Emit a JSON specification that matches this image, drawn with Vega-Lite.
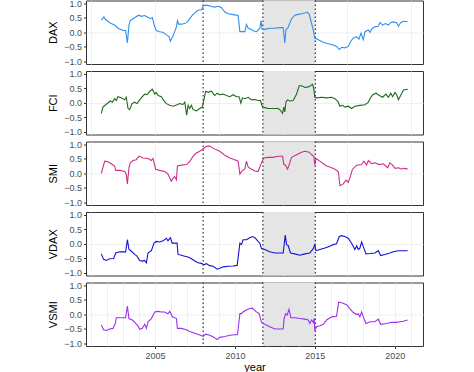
{
"$schema":"https://vega.github.io/schema/vega-lite/v6.json",
"padding":{"left":47,"top":-1.5,"right":5,"bottom":2},
"spacing":6.5,
"bounds":"flush",
"datasets":{
"sh":[{"a":2011.75,"b":2015.03}],
"ev":[{"x":2008.01},{"x":2011.75},{"x":2015.03}],
"d":[
{"s":"DAX","t":2001.64,"v":0.42},{"s":"DAX","t":2001.80,"v":0.53},{"s":"DAX","t":2001.91,"v":0.44},{"s":"DAX","t":2002.05,"v":0.38},{"s":"DAX","t":2002.26,"v":0.30},{"s":"DAX","t":2002.47,"v":0.25},{"s":"DAX","t":2002.68,"v":0.14},{"s":"DAX","t":2003.00,"v":0.06},{"s":"DAX","t":2003.16,"v":0.06},{"s":"DAX","t":2003.27,"v":-0.37},{"s":"DAX","t":2003.37,"v":0.25},{"s":"DAX","t":2003.45,"v":0.40},{"s":"DAX","t":2003.62,"v":0.47},{"s":"DAX","t":2003.79,"v":0.53},{"s":"DAX","t":2003.98,"v":0.59},{"s":"DAX","t":2004.14,"v":0.55},{"s":"DAX","t":2004.35,"v":0.58},{"s":"DAX","t":2004.52,"v":0.53},{"s":"DAX","t":2004.71,"v":0.47},{"s":"DAX","t":2004.83,"v":0.51},{"s":"DAX","t":2004.98,"v":0.19},{"s":"DAX","t":2005.08,"v":0.06},{"s":"DAX","t":2005.29,"v":0.02},{"s":"DAX","t":2005.50,"v":0.00},{"s":"DAX","t":2005.71,"v":-0.09},{"s":"DAX","t":2005.88,"v":-0.15},{"s":"DAX","t":2005.96,"v":-0.31},{"s":"DAX","t":2006.09,"v":-0.17},{"s":"DAX","t":2006.23,"v":0.02},{"s":"DAX","t":2006.34,"v":0.19},{"s":"DAX","t":2006.40,"v":0.40},{"s":"DAX","t":2006.48,"v":0.28},{"s":"DAX","t":2006.65,"v":0.28},{"s":"DAX","t":2006.86,"v":0.30},{"s":"DAX","t":2007.03,"v":0.36},{"s":"DAX","t":2007.17,"v":0.47},{"s":"DAX","t":2007.34,"v":0.59},{"s":"DAX","t":2007.49,"v":0.67},{"s":"DAX","t":2007.69,"v":0.76},{"s":"DAX","t":2007.90,"v":0.78},{"s":"DAX","t":2008.05,"v":0.93},{"s":"DAX","t":2008.32,"v":0.93},{"s":"DAX","t":2008.53,"v":0.89},{"s":"DAX","t":2008.74,"v":0.87},{"s":"DAX","t":2008.95,"v":0.90},{"s":"DAX","t":2009.16,"v":0.85},{"s":"DAX","t":2009.37,"v":0.70},{"s":"DAX","t":2009.57,"v":0.64},{"s":"DAX","t":2009.89,"v":0.61},{"s":"DAX","t":2010.20,"v":0.58},{"s":"DAX","t":2010.31,"v":0.02},{"s":"DAX","t":2010.47,"v":0.02},{"s":"DAX","t":2010.62,"v":0.02},{"s":"DAX","t":2010.72,"v":0.27},{"s":"DAX","t":2010.83,"v":0.14},{"s":"DAX","t":2010.97,"v":0.11},{"s":"DAX","t":2011.14,"v":0.05},{"s":"DAX","t":2011.35,"v":0.02},{"s":"DAX","t":2011.56,"v":0.14},{"s":"DAX","t":2011.64,"v":0.40},{"s":"DAX","t":2011.70,"v":0.10},{"s":"DAX","t":2011.87,"v":0.10},{"s":"DAX","t":2012.18,"v":0.14},{"s":"DAX","t":2012.50,"v":0.14},{"s":"DAX","t":2012.81,"v":0.16},{"s":"DAX","t":2013.02,"v":0.16},{"s":"DAX","t":2013.12,"v":-0.37},{"s":"DAX","t":2013.19,"v":0.08},{"s":"DAX","t":2013.33,"v":0.17},{"s":"DAX","t":2013.54,"v":0.47},{"s":"DAX","t":2013.75,"v":0.59},{"s":"DAX","t":2013.96,"v":0.62},{"s":"DAX","t":2014.17,"v":0.64},{"s":"DAX","t":2014.38,"v":0.67},{"s":"DAX","t":2014.52,"v":0.70},{"s":"DAX","t":2014.65,"v":0.62},{"s":"DAX","t":2014.80,"v":0.30},{"s":"DAX","t":2014.90,"v":0.08},{"s":"DAX","t":2015.00,"v":-0.20},{"s":"DAX","t":2015.21,"v":-0.26},{"s":"DAX","t":2015.53,"v":-0.35},{"s":"DAX","t":2015.84,"v":-0.40},{"s":"DAX","t":2016.15,"v":-0.44},{"s":"DAX","t":2016.36,"v":-0.49},{"s":"DAX","t":2016.53,"v":-0.60},{"s":"DAX","t":2016.68,"v":-0.52},{"s":"DAX","t":2016.88,"v":-0.54},{"s":"DAX","t":2017.09,"v":-0.49},{"s":"DAX","t":2017.24,"v":-0.32},{"s":"DAX","t":2017.41,"v":-0.20},{"s":"DAX","t":2017.62,"v":-0.15},{"s":"DAX","t":2017.76,"v":-0.24},{"s":"DAX","t":2017.89,"v":-0.03},{"s":"DAX","t":2018.03,"v":-0.26},{"s":"DAX","t":2018.14,"v":0.02},{"s":"DAX","t":2018.35,"v":0.08},{"s":"DAX","t":2018.45,"v":0.00},{"s":"DAX","t":2018.60,"v":0.14},{"s":"DAX","t":2018.76,"v":0.19},{"s":"DAX","t":2018.97,"v":0.21},{"s":"DAX","t":2019.08,"v":0.34},{"s":"DAX","t":2019.24,"v":0.25},{"s":"DAX","t":2019.43,"v":0.30},{"s":"DAX","t":2019.60,"v":0.25},{"s":"DAX","t":2019.77,"v":0.34},{"s":"DAX","t":2019.91,"v":0.36},{"s":"DAX","t":2020.12,"v":0.33},{"s":"DAX","t":2020.23,"v":0.21},{"s":"DAX","t":2020.37,"v":0.33},{"s":"DAX","t":2020.54,"v":0.38},{"s":"DAX","t":2020.81,"v":0.37},
{"s":"FCI","t":2001.64,"v":-0.37},{"s":"FCI","t":2001.74,"v":-0.15},{"s":"FCI","t":2001.91,"v":-0.07},{"s":"FCI","t":2002.05,"v":-0.01},{"s":"FCI","t":2002.20,"v":0.06},{"s":"FCI","t":2002.33,"v":0.02},{"s":"FCI","t":2002.47,"v":0.14},{"s":"FCI","t":2002.58,"v":0.08},{"s":"FCI","t":2002.68,"v":0.21},{"s":"FCI","t":2002.89,"v":0.17},{"s":"FCI","t":2003.10,"v":0.10},{"s":"FCI","t":2003.20,"v":0.19},{"s":"FCI","t":2003.31,"v":-0.20},{"s":"FCI","t":2003.41,"v":-0.24},{"s":"FCI","t":2003.56,"v":-0.03},{"s":"FCI","t":2003.73,"v":0.02},{"s":"FCI","t":2003.87,"v":-0.03},{"s":"FCI","t":2004.04,"v":0.10},{"s":"FCI","t":2004.21,"v":0.21},{"s":"FCI","t":2004.35,"v":0.30},{"s":"FCI","t":2004.50,"v":0.28},{"s":"FCI","t":2004.67,"v":0.40},{"s":"FCI","t":2004.83,"v":0.47},{"s":"FCI","t":2004.98,"v":0.30},{"s":"FCI","t":2005.08,"v":0.36},{"s":"FCI","t":2005.19,"v":0.25},{"s":"FCI","t":2005.40,"v":0.21},{"s":"FCI","t":2005.54,"v":0.08},{"s":"FCI","t":2005.71,"v":-0.03},{"s":"FCI","t":2005.92,"v":-0.09},{"s":"FCI","t":2006.13,"v":-0.12},{"s":"FCI","t":2006.34,"v":-0.08},{"s":"FCI","t":2006.55,"v":-0.03},{"s":"FCI","t":2006.75,"v":-0.06},{"s":"FCI","t":2006.86,"v":0.02},{"s":"FCI","t":2006.98,"v":-0.43},{"s":"FCI","t":2007.07,"v":-0.09},{"s":"FCI","t":2007.17,"v":-0.20},{"s":"FCI","t":2007.28,"v":-0.09},{"s":"FCI","t":2007.38,"v":-0.24},{"s":"FCI","t":2007.59,"v":-0.28},{"s":"FCI","t":2007.80,"v":-0.20},{"s":"FCI","t":2007.97,"v":-0.15},{"s":"FCI","t":2008.05,"v":0.08},{"s":"FCI","t":2008.17,"v":0.40},{"s":"FCI","t":2008.32,"v":0.36},{"s":"FCI","t":2008.53,"v":0.40},{"s":"FCI","t":2008.74,"v":0.25},{"s":"FCI","t":2008.89,"v":0.33},{"s":"FCI","t":2009.05,"v":0.28},{"s":"FCI","t":2009.26,"v":0.30},{"s":"FCI","t":2009.47,"v":0.25},{"s":"FCI","t":2009.68,"v":0.21},{"s":"FCI","t":2009.89,"v":0.28},{"s":"FCI","t":2010.10,"v":0.21},{"s":"FCI","t":2010.26,"v":0.21},{"s":"FCI","t":2010.37,"v":-0.01},{"s":"FCI","t":2010.47,"v":0.17},{"s":"FCI","t":2010.62,"v":0.14},{"s":"FCI","t":2010.83,"v":0.19},{"s":"FCI","t":2011.04,"v":0.10},{"s":"FCI","t":2011.25,"v":0.11},{"s":"FCI","t":2011.45,"v":0.08},{"s":"FCI","t":2011.60,"v":0.08},{"s":"FCI","t":2011.70,"v":-0.12},{"s":"FCI","t":2011.87,"v":-0.17},{"s":"FCI","t":2012.08,"v":-0.20},{"s":"FCI","t":2012.39,"v":-0.20},{"s":"FCI","t":2012.71,"v":-0.20},{"s":"FCI","t":2012.85,"v":-0.26},{"s":"FCI","t":2012.98,"v":-0.37},{"s":"FCI","t":2013.06,"v":-0.15},{"s":"FCI","t":2013.12,"v":-0.32},{"s":"FCI","t":2013.19,"v":0.02},{"s":"FCI","t":2013.29,"v":0.10},{"s":"FCI","t":2013.44,"v":0.06},{"s":"FCI","t":2013.65,"v":0.08},{"s":"FCI","t":2013.86,"v":0.30},{"s":"FCI","t":2014.02,"v":0.59},{"s":"FCI","t":2014.17,"v":0.59},{"s":"FCI","t":2014.38,"v":0.53},{"s":"FCI","t":2014.59,"v":0.55},{"s":"FCI","t":2014.73,"v":0.59},{"s":"FCI","t":2014.86,"v":0.64},{"s":"FCI","t":2014.94,"v":0.47},{"s":"FCI","t":2015.00,"v":0.19},{"s":"FCI","t":2015.15,"v":0.17},{"s":"FCI","t":2015.42,"v":0.19},{"s":"FCI","t":2015.74,"v":0.17},{"s":"FCI","t":2016.05,"v":0.19},{"s":"FCI","t":2016.26,"v":0.14},{"s":"FCI","t":2016.47,"v":0.02},{"s":"FCI","t":2016.57,"v":-0.12},{"s":"FCI","t":2016.74,"v":-0.09},{"s":"FCI","t":2016.88,"v":-0.15},{"s":"FCI","t":2017.09,"v":-0.12},{"s":"FCI","t":2017.30,"v":-0.20},{"s":"FCI","t":2017.51,"v":-0.12},{"s":"FCI","t":2017.82,"v":-0.09},{"s":"FCI","t":2018.14,"v":-0.07},{"s":"FCI","t":2018.35,"v":0.02},{"s":"FCI","t":2018.45,"v":0.14},{"s":"FCI","t":2018.62,"v":0.28},{"s":"FCI","t":2018.83,"v":0.33},{"s":"FCI","t":2019.04,"v":0.25},{"s":"FCI","t":2019.24,"v":0.19},{"s":"FCI","t":2019.45,"v":0.30},{"s":"FCI","t":2019.60,"v":0.19},{"s":"FCI","t":2019.75,"v":0.33},{"s":"FCI","t":2019.87,"v":0.21},{"s":"FCI","t":2020.02,"v":0.36},{"s":"FCI","t":2020.12,"v":0.28},{"s":"FCI","t":2020.23,"v":0.10},{"s":"FCI","t":2020.37,"v":0.25},{"s":"FCI","t":2020.54,"v":0.44},{"s":"FCI","t":2020.81,"v":0.47},
{"s":"SMI","t":2001.64,"v":0.00},{"s":"SMI","t":2001.85,"v":0.42},{"s":"SMI","t":2002.05,"v":0.40},{"s":"SMI","t":2002.26,"v":0.33},{"s":"SMI","t":2002.47,"v":0.25},{"s":"SMI","t":2002.54,"v":0.10},{"s":"SMI","t":2002.79,"v":0.10},{"s":"SMI","t":2003.10,"v":0.06},{"s":"SMI","t":2003.20,"v":-0.03},{"s":"SMI","t":2003.27,"v":-0.37},{"s":"SMI","t":2003.37,"v":0.19},{"s":"SMI","t":2003.45,"v":0.36},{"s":"SMI","t":2003.62,"v":0.44},{"s":"SMI","t":2003.83,"v":0.47},{"s":"SMI","t":2004.00,"v":0.59},{"s":"SMI","t":2004.25,"v":0.53},{"s":"SMI","t":2004.56,"v":0.51},{"s":"SMI","t":2004.77,"v":0.44},{"s":"SMI","t":2004.87,"v":0.51},{"s":"SMI","t":2005.04,"v":0.14},{"s":"SMI","t":2005.29,"v":0.10},{"s":"SMI","t":2005.61,"v":0.06},{"s":"SMI","t":2005.81,"v":-0.03},{"s":"SMI","t":2006.02,"v":-0.28},{"s":"SMI","t":2006.13,"v":-0.17},{"s":"SMI","t":2006.23,"v":-0.12},{"s":"SMI","t":2006.34,"v":-0.23},{"s":"SMI","t":2006.40,"v":0.25},{"s":"SMI","t":2006.65,"v":0.28},{"s":"SMI","t":2006.96,"v":0.30},{"s":"SMI","t":2007.17,"v":0.40},{"s":"SMI","t":2007.38,"v":0.59},{"s":"SMI","t":2007.59,"v":0.70},{"s":"SMI","t":2007.80,"v":0.76},{"s":"SMI","t":2008.01,"v":0.85},{"s":"SMI","t":2008.22,"v":0.93},{"s":"SMI","t":2008.43,"v":0.94},{"s":"SMI","t":2008.63,"v":0.87},{"s":"SMI","t":2008.84,"v":0.81},{"s":"SMI","t":2009.05,"v":0.76},{"s":"SMI","t":2009.37,"v":0.62},{"s":"SMI","t":2009.68,"v":0.53},{"s":"SMI","t":2009.99,"v":0.47},{"s":"SMI","t":2010.20,"v":0.42},{"s":"SMI","t":2010.31,"v":-0.03},{"s":"SMI","t":2010.47,"v":0.10},{"s":"SMI","t":2010.62,"v":0.14},{"s":"SMI","t":2010.72,"v":0.42},{"s":"SMI","t":2010.83,"v":0.21},{"s":"SMI","t":2011.04,"v":0.14},{"s":"SMI","t":2011.25,"v":0.08},{"s":"SMI","t":2011.45,"v":0.06},{"s":"SMI","t":2011.66,"v":0.36},{"s":"SMI","t":2011.81,"v":0.53},{"s":"SMI","t":2012.08,"v":0.55},{"s":"SMI","t":2012.39,"v":0.55},{"s":"SMI","t":2012.71,"v":0.59},{"s":"SMI","t":2012.98,"v":0.59},{"s":"SMI","t":2013.06,"v":0.30},{"s":"SMI","t":2013.17,"v":0.28},{"s":"SMI","t":2013.29,"v":0.14},{"s":"SMI","t":2013.40,"v":0.30},{"s":"SMI","t":2013.54,"v":0.55},{"s":"SMI","t":2013.86,"v":0.64},{"s":"SMI","t":2014.17,"v":0.73},{"s":"SMI","t":2014.38,"v":0.76},{"s":"SMI","t":2014.65,"v":0.73},{"s":"SMI","t":2014.80,"v":0.64},{"s":"SMI","t":2014.94,"v":0.59},{"s":"SMI","t":2015.00,"v":0.28},{"s":"SMI","t":2015.07,"v":0.51},{"s":"SMI","t":2015.32,"v":0.42},{"s":"SMI","t":2015.53,"v":0.33},{"s":"SMI","t":2015.74,"v":0.25},{"s":"SMI","t":2015.99,"v":0.21},{"s":"SMI","t":2016.26,"v":0.14},{"s":"SMI","t":2016.47,"v":0.06},{"s":"SMI","t":2016.57,"v":-0.43},{"s":"SMI","t":2016.78,"v":-0.37},{"s":"SMI","t":2016.95,"v":-0.24},{"s":"SMI","t":2017.09,"v":-0.32},{"s":"SMI","t":2017.20,"v":-0.15},{"s":"SMI","t":2017.36,"v":0.14},{"s":"SMI","t":2017.62,"v":0.28},{"s":"SMI","t":2017.93,"v":0.30},{"s":"SMI","t":2018.07,"v":0.42},{"s":"SMI","t":2018.24,"v":0.28},{"s":"SMI","t":2018.35,"v":0.44},{"s":"SMI","t":2018.55,"v":0.33},{"s":"SMI","t":2018.76,"v":0.36},{"s":"SMI","t":2019.04,"v":0.30},{"s":"SMI","t":2019.29,"v":0.33},{"s":"SMI","t":2019.56,"v":0.19},{"s":"SMI","t":2019.70,"v":0.36},{"s":"SMI","t":2019.87,"v":0.28},{"s":"SMI","t":2020.02,"v":0.17},{"s":"SMI","t":2020.23,"v":0.19},{"s":"SMI","t":2020.43,"v":0.14},{"s":"SMI","t":2020.54,"v":0.17},{"s":"SMI","t":2020.81,"v":0.15},
{"s":"VDAX","t":2001.64,"v":-0.35},{"s":"VDAX","t":2001.78,"v":-0.54},{"s":"VDAX","t":2001.95,"v":-0.58},{"s":"VDAX","t":2002.16,"v":-0.52},{"s":"VDAX","t":2002.41,"v":-0.51},{"s":"VDAX","t":2002.54,"v":-0.32},{"s":"VDAX","t":2002.79,"v":-0.28},{"s":"VDAX","t":2003.16,"v":-0.28},{"s":"VDAX","t":2003.27,"v":0.14},{"s":"VDAX","t":2003.37,"v":-0.20},{"s":"VDAX","t":2003.52,"v":-0.26},{"s":"VDAX","t":2003.73,"v":-0.37},{"s":"VDAX","t":2003.87,"v":-0.43},{"s":"VDAX","t":2004.04,"v":-0.58},{"s":"VDAX","t":2004.21,"v":-0.60},{"s":"VDAX","t":2004.35,"v":-0.58},{"s":"VDAX","t":2004.46,"v":-0.66},{"s":"VDAX","t":2004.56,"v":-0.32},{"s":"VDAX","t":2004.77,"v":-0.24},{"s":"VDAX","t":2004.94,"v":0.02},{"s":"VDAX","t":2005.08,"v":0.08},{"s":"VDAX","t":2005.29,"v":0.06},{"s":"VDAX","t":2005.50,"v":0.10},{"s":"VDAX","t":2005.71,"v":0.19},{"s":"VDAX","t":2005.81,"v":0.10},{"s":"VDAX","t":2005.96,"v":0.21},{"s":"VDAX","t":2006.07,"v":0.02},{"s":"VDAX","t":2006.38,"v":0.02},{"s":"VDAX","t":2006.44,"v":-0.37},{"s":"VDAX","t":2006.65,"v":-0.40},{"s":"VDAX","t":2006.86,"v":-0.43},{"s":"VDAX","t":2007.07,"v":-0.46},{"s":"VDAX","t":2007.28,"v":-0.52},{"s":"VDAX","t":2007.49,"v":-0.60},{"s":"VDAX","t":2007.69,"v":-0.66},{"s":"VDAX","t":2007.90,"v":-0.68},{"s":"VDAX","t":2008.05,"v":-0.73},{"s":"VDAX","t":2008.22,"v":-0.69},{"s":"VDAX","t":2008.38,"v":-0.75},{"s":"VDAX","t":2008.63,"v":-0.78},{"s":"VDAX","t":2008.89,"v":-0.88},{"s":"VDAX","t":2009.05,"v":-0.85},{"s":"VDAX","t":2009.26,"v":-0.80},{"s":"VDAX","t":2009.57,"v":-0.78},{"s":"VDAX","t":2009.89,"v":-0.77},{"s":"VDAX","t":2010.14,"v":-0.75},{"s":"VDAX","t":2010.31,"v":0.02},{"s":"VDAX","t":2010.41,"v":-0.03},{"s":"VDAX","t":2010.51,"v":0.14},{"s":"VDAX","t":2010.72,"v":0.14},{"s":"VDAX","t":2010.93,"v":0.21},{"s":"VDAX","t":2011.10,"v":0.25},{"s":"VDAX","t":2011.25,"v":0.21},{"s":"VDAX","t":2011.45,"v":0.08},{"s":"VDAX","t":2011.56,"v":0.02},{"s":"VDAX","t":2011.66,"v":-0.17},{"s":"VDAX","t":2011.87,"v":-0.20},{"s":"VDAX","t":2012.18,"v":-0.28},{"s":"VDAX","t":2012.50,"v":-0.32},{"s":"VDAX","t":2012.81,"v":-0.32},{"s":"VDAX","t":2013.02,"v":-0.32},{"s":"VDAX","t":2013.15,"v":0.30},{"s":"VDAX","t":2013.23,"v":-0.03},{"s":"VDAX","t":2013.33,"v":-0.06},{"s":"VDAX","t":2013.48,"v":-0.32},{"s":"VDAX","t":2013.75,"v":-0.35},{"s":"VDAX","t":2014.06,"v":-0.40},{"s":"VDAX","t":2014.38,"v":-0.35},{"s":"VDAX","t":2014.69,"v":-0.32},{"s":"VDAX","t":2014.90,"v":-0.17},{"s":"VDAX","t":2015.00,"v":-0.03},{"s":"VDAX","t":2015.07,"v":-0.24},{"s":"VDAX","t":2015.32,"v":-0.20},{"s":"VDAX","t":2015.63,"v":-0.15},{"s":"VDAX","t":2015.94,"v":-0.09},{"s":"VDAX","t":2016.15,"v":-0.03},{"s":"VDAX","t":2016.36,"v":0.00},{"s":"VDAX","t":2016.53,"v":0.25},{"s":"VDAX","t":2016.68,"v":0.28},{"s":"VDAX","t":2016.88,"v":0.25},{"s":"VDAX","t":2017.09,"v":0.19},{"s":"VDAX","t":2017.30,"v":0.02},{"s":"VDAX","t":2017.51,"v":-0.20},{"s":"VDAX","t":2017.62,"v":-0.07},{"s":"VDAX","t":2017.72,"v":-0.20},{"s":"VDAX","t":2017.82,"v":-0.15},{"s":"VDAX","t":2017.93,"v":0.06},{"s":"VDAX","t":2018.07,"v":-0.15},{"s":"VDAX","t":2018.20,"v":-0.35},{"s":"VDAX","t":2018.45,"v":-0.34},{"s":"VDAX","t":2018.76,"v":-0.32},{"s":"VDAX","t":2018.97,"v":-0.24},{"s":"VDAX","t":2019.12,"v":-0.41},{"s":"VDAX","t":2019.39,"v":-0.37},{"s":"VDAX","t":2019.70,"v":-0.32},{"s":"VDAX","t":2019.91,"v":-0.28},{"s":"VDAX","t":2020.23,"v":-0.24},{"s":"VDAX","t":2020.54,"v":-0.24},{"s":"VDAX","t":2020.81,"v":-0.24},
{"s":"VSMI","t":2001.64,"v":-0.37},{"s":"VSMI","t":2001.78,"v":-0.54},{"s":"VSMI","t":2001.95,"v":-0.56},{"s":"VSMI","t":2002.16,"v":-0.51},{"s":"VSMI","t":2002.37,"v":-0.49},{"s":"VSMI","t":2002.51,"v":-0.32},{"s":"VSMI","t":2002.58,"v":-0.12},{"s":"VSMI","t":2002.89,"v":-0.12},{"s":"VSMI","t":2003.16,"v":-0.12},{"s":"VSMI","t":2003.27,"v":0.28},{"s":"VSMI","t":2003.37,"v":-0.15},{"s":"VSMI","t":2003.58,"v":-0.20},{"s":"VSMI","t":2003.79,"v":-0.32},{"s":"VSMI","t":2003.93,"v":-0.40},{"s":"VSMI","t":2004.04,"v":-0.52},{"s":"VSMI","t":2004.21,"v":-0.49},{"s":"VSMI","t":2004.35,"v":-0.35},{"s":"VSMI","t":2004.46,"v":-0.49},{"s":"VSMI","t":2004.56,"v":-0.26},{"s":"VSMI","t":2004.77,"v":-0.15},{"s":"VSMI","t":2004.98,"v":0.08},{"s":"VSMI","t":2005.19,"v":0.10},{"s":"VSMI","t":2005.40,"v":0.08},{"s":"VSMI","t":2005.61,"v":0.08},{"s":"VSMI","t":2005.81,"v":0.02},{"s":"VSMI","t":2005.92,"v":0.10},{"s":"VSMI","t":2006.09,"v":-0.09},{"s":"VSMI","t":2006.34,"v":-0.15},{"s":"VSMI","t":2006.40,"v":-0.49},{"s":"VSMI","t":2006.65,"v":-0.49},{"s":"VSMI","t":2006.96,"v":-0.54},{"s":"VSMI","t":2007.17,"v":-0.60},{"s":"VSMI","t":2007.49,"v":-0.66},{"s":"VSMI","t":2007.76,"v":-0.71},{"s":"VSMI","t":2008.01,"v":-0.77},{"s":"VSMI","t":2008.17,"v":-0.69},{"s":"VSMI","t":2008.43,"v":-0.73},{"s":"VSMI","t":2008.68,"v":-0.80},{"s":"VSMI","t":2008.89,"v":-0.88},{"s":"VSMI","t":2009.05,"v":-0.80},{"s":"VSMI","t":2009.37,"v":-0.77},{"s":"VSMI","t":2009.68,"v":-0.73},{"s":"VSMI","t":2009.99,"v":-0.71},{"s":"VSMI","t":2010.16,"v":-0.71},{"s":"VSMI","t":2010.31,"v":0.02},{"s":"VSMI","t":2010.41,"v":0.02},{"s":"VSMI","t":2010.51,"v":0.08},{"s":"VSMI","t":2010.68,"v":0.14},{"s":"VSMI","t":2010.89,"v":0.19},{"s":"VSMI","t":2011.10,"v":0.21},{"s":"VSMI","t":2011.31,"v":0.10},{"s":"VSMI","t":2011.52,"v":0.02},{"s":"VSMI","t":2011.66,"v":-0.28},{"s":"VSMI","t":2011.87,"v":-0.35},{"s":"VSMI","t":2012.18,"v":-0.43},{"s":"VSMI","t":2012.50,"v":-0.51},{"s":"VSMI","t":2012.81,"v":-0.51},{"s":"VSMI","t":2013.02,"v":-0.51},{"s":"VSMI","t":2013.08,"v":-0.15},{"s":"VSMI","t":2013.17,"v":0.02},{"s":"VSMI","t":2013.27,"v":-0.03},{"s":"VSMI","t":2013.38,"v":0.17},{"s":"VSMI","t":2013.50,"v":-0.12},{"s":"VSMI","t":2013.75,"v":-0.12},{"s":"VSMI","t":2014.06,"v":-0.15},{"s":"VSMI","t":2014.38,"v":-0.17},{"s":"VSMI","t":2014.59,"v":-0.20},{"s":"VSMI","t":2014.69,"v":-0.32},{"s":"VSMI","t":2014.80,"v":-0.20},{"s":"VSMI","t":2014.90,"v":-0.28},{"s":"VSMI","t":2014.96,"v":-0.15},{"s":"VSMI","t":2015.00,"v":-0.54},{"s":"VSMI","t":2015.11,"v":-0.43},{"s":"VSMI","t":2015.32,"v":-0.40},{"s":"VSMI","t":2015.53,"v":-0.35},{"s":"VSMI","t":2015.74,"v":-0.20},{"s":"VSMI","t":2016.05,"v":-0.09},{"s":"VSMI","t":2016.36,"v":-0.07},{"s":"VSMI","t":2016.49,"v":0.42},{"s":"VSMI","t":2016.68,"v":0.40},{"s":"VSMI","t":2016.99,"v":0.33},{"s":"VSMI","t":2017.20,"v":0.19},{"s":"VSMI","t":2017.41,"v":0.06},{"s":"VSMI","t":2017.62,"v":-0.01},{"s":"VSMI","t":2017.72,"v":0.02},{"s":"VSMI","t":2017.82,"v":-0.09},{"s":"VSMI","t":2017.93,"v":0.08},{"s":"VSMI","t":2018.07,"v":-0.15},{"s":"VSMI","t":2018.20,"v":-0.32},{"s":"VSMI","t":2018.45,"v":-0.26},{"s":"VSMI","t":2018.76,"v":-0.26},{"s":"VSMI","t":2018.97,"v":-0.17},{"s":"VSMI","t":2019.12,"v":-0.35},{"s":"VSMI","t":2019.50,"v":-0.32},{"s":"VSMI","t":2019.81,"v":-0.28},{"s":"VSMI","t":2020.12,"v":-0.28},{"s":"VSMI","t":2020.33,"v":-0.26},{"s":"VSMI","t":2020.54,"v":-0.24},{"s":"VSMI","t":2020.81,"v":-0.20}
]},
"vconcat":[
{"width":337,"height":63.5,"layer":[
{"data":{"name":"sh"},"mark":{"type":"rect","color":"#E5E5E5"},"encoding":{"x":{"field":"a","type":"quantitative","scale":{"domain":[2000.68,2021.77],"nice":false,"zero":false},"axis":{"values":[2001,2002,2003,2004,2005,2006,2007,2008,2009,2010,2011,2012,2013,2014,2015,2016,2017,2018,2019,2020,2021],"labels":false,"ticks":false,"title":null,"labelPadding":0,"tickSize":0,"minExtent":0,"maxExtent":0}},"x2":{"field":"b"}}},
{"data":{"name":"ev"},"mark":{"type":"rule","color":"#222222","strokeDash":[1.5,2.5],"strokeWidth":1.1},"encoding":{"x":{"field":"x","type":"quantitative"}}},
{"data":{"name":"d"},"transform":[{"filter":"datum.s==='DAX'"}],"mark":{"type":"line","color":"#2E8FF0","strokeWidth":1.1},"encoding":{"x":{"field":"t","type":"quantitative"},"y":{"field":"v","type":"quantitative","scale":{"domain":[-1.1,1.1],"nice":false},"axis":{"values":[-1,-0.5,0,0.5,1],"format":".1f","title":"DAX","gridOpacity":{"condition":{"test":"datum.value===0","value":1},"value":0}}}}}
]},
{"width":337,"height":63.5,"layer":[
{"data":{"name":"sh"},"mark":{"type":"rect","color":"#E5E5E5"},"encoding":{"x":{"field":"a","type":"quantitative","scale":{"domain":[2000.68,2021.77],"nice":false,"zero":false},"axis":{"values":[2001,2002,2003,2004,2005,2006,2007,2008,2009,2010,2011,2012,2013,2014,2015,2016,2017,2018,2019,2020,2021],"labels":false,"ticks":false,"title":null,"labelPadding":0,"tickSize":0,"minExtent":0,"maxExtent":0}},"x2":{"field":"b"}}},
{"data":{"name":"ev"},"mark":{"type":"rule","color":"#222222","strokeDash":[1.5,2.5],"strokeWidth":1.1},"encoding":{"x":{"field":"x","type":"quantitative"}}},
{"data":{"name":"d"},"transform":[{"filter":"datum.s==='FCI'"}],"mark":{"type":"line","color":"#1B6B1B","strokeWidth":1.1},"encoding":{"x":{"field":"t","type":"quantitative"},"y":{"field":"v","type":"quantitative","scale":{"domain":[-1.1,1.1],"nice":false},"axis":{"values":[-1,-0.5,0,0.5,1],"format":".1f","title":"FCI","gridOpacity":{"condition":{"test":"datum.value===0","value":1},"value":0}}}}}
]},
{"width":337,"height":63.5,"layer":[
{"data":{"name":"sh"},"mark":{"type":"rect","color":"#E5E5E5"},"encoding":{"x":{"field":"a","type":"quantitative","scale":{"domain":[2000.68,2021.77],"nice":false,"zero":false},"axis":{"values":[2001,2002,2003,2004,2005,2006,2007,2008,2009,2010,2011,2012,2013,2014,2015,2016,2017,2018,2019,2020,2021],"labels":false,"ticks":false,"title":null,"labelPadding":0,"tickSize":0,"minExtent":0,"maxExtent":0}},"x2":{"field":"b"}}},
{"data":{"name":"ev"},"mark":{"type":"rule","color":"#222222","strokeDash":[1.5,2.5],"strokeWidth":1.1},"encoding":{"x":{"field":"x","type":"quantitative"}}},
{"data":{"name":"d"},"transform":[{"filter":"datum.s==='SMI'"}],"mark":{"type":"line","color":"#CC2F8A","strokeWidth":1.1},"encoding":{"x":{"field":"t","type":"quantitative"},"y":{"field":"v","type":"quantitative","scale":{"domain":[-1.1,1.1],"nice":false},"axis":{"values":[-1,-0.5,0,0.5,1],"format":".1f","title":"SMI","gridOpacity":{"condition":{"test":"datum.value===0","value":1},"value":0}}}}}
]},
{"width":337,"height":63.5,"layer":[
{"data":{"name":"sh"},"mark":{"type":"rect","color":"#E5E5E5"},"encoding":{"x":{"field":"a","type":"quantitative","scale":{"domain":[2000.68,2021.77],"nice":false,"zero":false},"axis":{"values":[2001,2002,2003,2004,2005,2006,2007,2008,2009,2010,2011,2012,2013,2014,2015,2016,2017,2018,2019,2020,2021],"labels":false,"ticks":false,"title":null,"labelPadding":0,"tickSize":0,"minExtent":0,"maxExtent":0}},"x2":{"field":"b"}}},
{"data":{"name":"ev"},"mark":{"type":"rule","color":"#222222","strokeDash":[1.5,2.5],"strokeWidth":1.1},"encoding":{"x":{"field":"x","type":"quantitative"}}},
{"data":{"name":"d"},"transform":[{"filter":"datum.s==='VDAX'"}],"mark":{"type":"line","color":"#1212D6","strokeWidth":1.1},"encoding":{"x":{"field":"t","type":"quantitative"},"y":{"field":"v","type":"quantitative","scale":{"domain":[-1.1,1.1],"nice":false},"axis":{"values":[-1,-0.5,0,0.5,1],"format":".1f","title":"VDAX","gridOpacity":{"condition":{"test":"datum.value===0","value":1},"value":0}}}}}
]},
{"width":337,"height":63.5,"resolve":{"axis":{"x":"independent"}},"layer":[
{"data":{"name":"sh"},"mark":{"type":"rect","color":"#E5E5E5"},"encoding":{"x":{"field":"a","type":"quantitative","scale":{"domain":[2000.68,2021.77],"nice":false,"zero":false},"axis":{"orient":"bottom","values":[2001,2002,2003,2004,2005,2006,2007,2008,2009,2010,2011,2012,2013,2014,2015,2016,2017,2018,2019,2020,2021],"labels":false,"ticks":false,"title":null,"labelPadding":0,"tickSize":0,"minExtent":0,"maxExtent":0}},"x2":{"field":"b"}}},
{"data":{"name":"ev"},"mark":{"type":"rule","color":"#222222","strokeDash":[1.5,2.5],"strokeWidth":1.1},"encoding":{"x":{"field":"x","type":"quantitative","axis":null}}},
{"data":{"name":"d"},"transform":[{"filter":"datum.s==='VSMI'"}],"mark":{"type":"line","color":"#9B30F0","strokeWidth":1.1},"encoding":{"x":{"field":"t","type":"quantitative","axis":{"orient":"bottom","values":[2005,2010,2015,2020],"format":"d","grid":false,"labelFlush":false,"title":"year","titlePadding":1}},"y":{"field":"v","type":"quantitative","scale":{"domain":[-1.1,1.1],"nice":false},"axis":{"values":[-1,-0.5,0,0.5,1],"format":".1f","title":"VSMI","gridOpacity":{"condition":{"test":"datum.value===0","value":1},"value":0}}}}}
]}
],
"config":{
"view":{"stroke":"#333333","strokeWidth":1},
"axis":{"domain":false,"tickColor":"#333333","tickSize":2.5,"tickWidth":1,"labelColor":"#4D4D4D","labelFontSize":9,"labelFont":"Liberation Sans","titleFont":"Liberation Sans","titleFontSize":11,"titleFontWeight":"normal","titleColor":"#000000","labelPadding":2,"gridColor":"#EBEBEB","gridWidth":0.8},
"axisY":{"titlePadding":5},
"axisX":{"labelPadding":3,"titlePadding":3}
}
}
